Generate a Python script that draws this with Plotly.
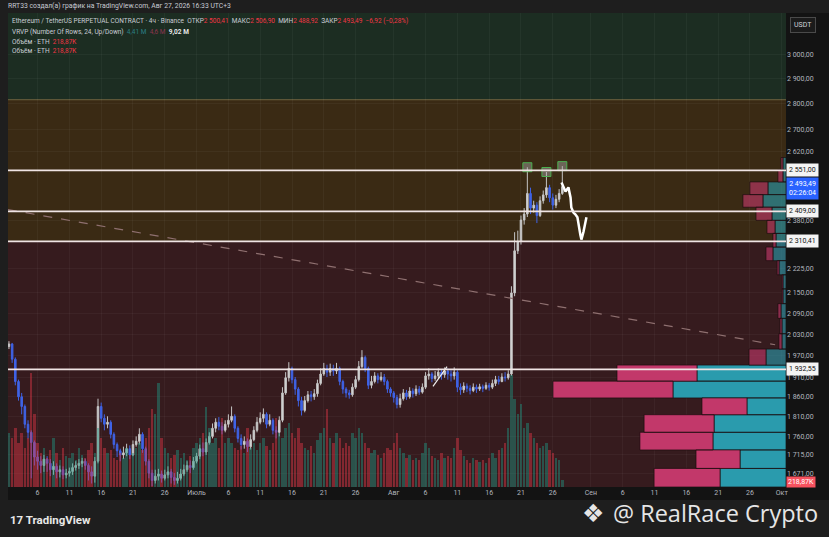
import math
import pandas as pd
import plotly.graph_objects as go

# ---- price data: 12h candles, first bar opens 2026-06-01 00:00
CANDLE_START = "2026-06-01 00:00"
first_open = 1990

close = [
    1995, 2002, 1960, 1900, 1860, 1835, 1790, 1770, 1745, 1710,
    1700, 1690, 1705, 1695, 1680, 1688, 1675, 1680, 1668, 1672,
    1676, 1685, 1690, 1695, 1700, 1690, 1675, 1665, 1700, 1835,
    1805, 1790, 1795, 1765, 1740, 1725, 1715, 1720, 1730, 1715,
    1740, 1748, 1765, 1730, 1700, 1672, 1655, 1665, 1670, 1660,
    1668, 1675, 1662, 1655, 1660, 1670, 1680, 1690, 1685, 1700,
    1712, 1730, 1722, 1745, 1760, 1780, 1795, 1785, 1775, 1790,
    1800, 1810, 1780, 1755, 1740, 1748, 1735, 1752, 1775, 1795,
    1805, 1815, 1790, 1800, 1775, 1770, 1800, 1870, 1910, 1935,
    1905, 1880, 1850, 1825, 1850, 1865, 1860, 1868, 1895, 1920,
    1935, 1925, 1935, 1928, 1935, 1900, 1880, 1870, 1865, 1885,
    1905, 1940, 1965, 1935, 1890, 1900, 1915, 1905, 1912, 1900,
    1880, 1870, 1858, 1840, 1855, 1870, 1860, 1875, 1868, 1880,
    1872, 1885, 1915, 1920, 1908, 1915, 1925, 1918, 1928, 1920,
    1915, 1925, 1885, 1878, 1888, 1882, 1876, 1885, 1880, 1886,
    1882, 1890, 1885, 1895, 1905, 1900, 1912, 1910, 1920, 2150,
    2280, 2310, 2380, 2400, 2470, 2420, 2430, 2395, 2445, 2465,
    2490, 2455, 2430, 2450, 2470, 2493.49,
]
high = [
    2012, 2010, 2005, 1965, 1905, 1870, 1840, 1800, 1775, 1750,
    1725, 1712, 1715, 1712, 1705, 1700, 1695, 1690, 1688, 1682,
    1685, 1695, 1700, 1705, 1708, 1706, 1695, 1688, 1710, 1855,
    1845, 1815, 1810, 1800, 1770, 1745, 1730, 1735, 1742, 1738,
    1750, 1760, 1780, 1770, 1735, 1705, 1680, 1680, 1682, 1678,
    1680, 1688, 1682, 1672, 1675, 1682, 1692, 1700, 1702, 1710,
    1720, 1740, 1745, 1755, 1770, 1792, 1805, 1808, 1795, 1800,
    1815, 1835, 1815, 1785, 1765, 1760, 1755, 1765, 1785, 1808,
    1820, 1830, 1820, 1815, 1805, 1785, 1810, 1885, 1925, 1952,
    1940, 1912, 1885, 1860, 1862, 1875, 1875, 1880, 1905, 1935,
    1950, 1945, 1948, 1945, 1950, 1940, 1905, 1885, 1878, 1895,
    1915, 1955, 1985, 1970, 1940, 1915, 1925, 1922, 1925, 1920,
    1905, 1885, 1875, 1865, 1868, 1880, 1878, 1885, 1882, 1890,
    1888, 1895, 1925, 1935, 1925, 1928, 1935, 1932, 1938, 1935,
    1930, 1938, 1930, 1895, 1898, 1895, 1890, 1895, 1892, 1894,
    1892, 1898, 1896, 1905, 1915, 1915, 1922, 1925, 1930, 2170,
    2340, 2345, 2395, 2420, 2562, 2490, 2445, 2440, 2460, 2480,
    2545, 2500, 2470, 2465, 2485, 2566,
]
low = [
    1985, 1988, 1950, 1890, 1850, 1815, 1780, 1755, 1660, 1690,
    1680, 1672, 1675, 1675, 1665, 1668, 1660, 1662, 1658, 1660,
    1664, 1668, 1678, 1682, 1686, 1680, 1655, 1648, 1650, 1695,
    1795, 1775, 1780, 1755, 1730, 1710, 1700, 1705, 1712, 1705,
    1712, 1735, 1740, 1720, 1690, 1660, 1642, 1648, 1655, 1650,
    1655, 1660, 1648, 1645, 1648, 1655, 1665, 1675, 1672, 1680,
    1695, 1705, 1712, 1715, 1740, 1755, 1770, 1775, 1765, 1770,
    1782, 1795, 1770, 1745, 1728, 1730, 1722, 1728, 1748, 1770,
    1790, 1795, 1780, 1785, 1765, 1755, 1760, 1795, 1865, 1900,
    1895, 1865, 1835, 1812, 1820, 1845, 1848, 1852, 1860, 1890,
    1915, 1912, 1915, 1915, 1920, 1890, 1868, 1858, 1855, 1860,
    1880, 1900, 1935, 1925, 1880, 1882, 1895, 1895, 1900, 1890,
    1870, 1860, 1845, 1830, 1832, 1850, 1852, 1855, 1858, 1862,
    1865, 1868, 1880, 1905, 1898, 1902, 1908, 1905, 1910, 1905,
    1900, 1905, 1872, 1865, 1870, 1872, 1866, 1872, 1870, 1875,
    1872, 1878, 1876, 1880, 1888, 1892, 1898, 1900, 1905, 1915,
    2140, 2270, 2300, 2365, 2390, 2400, 2405, 2370, 2390, 2435,
    2455, 2440, 2415, 2420, 2440, 2465,
]
# volume per 12h bar, thousands of ETH
volume = [
    1200, 1650, 1500, 1800, 1350, 1650, 1200, 1500, 3500, 2250,
    1350, 1050, 1200, 900, 1140, 1500, 1050, 840, 1200, 960,
    900, 1050, 840, 1200, 990, 900, 1140, 1350, 1050, 1800,
    1500, 1200, 1050, 1140, 900, 840, 1050, 900, 1200, 990,
    1050, 1200, 1350, 1140, 1500, 1800, 2400, 2250, 3200, 1500,
    1200, 1050, 900, 990, 1140, 900, 1050, 840, 960, 1200,
    1350, 1500, 1650, 2460, 1800, 1350, 1500, 1200, 2100, 1350,
    1500, 1350, 1200, 1140, 1260, 1050, 1800, 1200, 1350, 1140,
    1350, 1500, 1260, 1140, 1350, 2100, 1650, 1500, 1800, 1950,
    1650, 1500, 1800, 1350, 1200, 1140, 1260, 1050, 1440, 1650,
    1800, 2400, 1500, 1350, 1650, 1500, 1200, 1350, 1260, 1650,
    1500, 1800, 1650, 1350, 1200, 1050, 1140, 990, 900, 1050,
    1200, 1140, 1350, 1650, 1200, 1050, 900, 990, 840, 900,
    840, 1050, 1350, 1200, 960, 900, 840, 1050, 900, 960,
    900, 1200, 1500, 1140, 960, 840, 750, 900, 840, 780,
    840, 750, 900, 1050, 900, 1140, 1200, 1350, 1800, 3420,
    2700, 2250, 2550, 1800, 1950, 1650, 1500, 1350, 1200, 1260,
    1350, 1140, 1050, 900, 840, 219,
]
marked_high_idx = [164, 170, 175]

# header values of the last 4h bar
last_open, last_high, last_low, last_close = 2500.41, 2506.90, 2488.92, 2493.49
last_change, last_change_pct = -6.92, -0.28
bar_countdown = "02:26:04"
last_volume_label = "218,87K"

# ---- visible range volume profile (rows bottom -> top), thousands of ETH
vp_edges = [1640, 1683, 1727, 1770, 1814, 1857, 1901, 1944, 1988, 2031, 2075, 2118,
            2162, 2205, 2249, 2292, 2336, 2379, 2423, 2466, 2510, 2553, 2597]
vp_up = [475, 331, 526, 518, 281, 814, 641, 144, 29, 29, 36, 22,
         22, 50, 94, 72, 79, 101, 166, 130, 22, 22]
vp_down = [475, 317, 526, 504, 324, 864, 576, 122, 22, 14, 22, 7,
           7, 14, 50, 22, 58, 115, 144, 130, 36, 14]

# ---- drawings
zone_top = 2815
zone_mid = 2310.41
levels = [2551.00, 2409.00, 2310.41, 1932.55]
trend_t = ["2026-06-01 08:00", "2026-09-29 23:00"]
trend_p = [2415, 2000]
sketch_t = ["2026-08-07 04:00", "2026-08-09 09:00"]
sketch_p = [1887, 1940]
path_t = ["2026-08-27 09:00", "2026-08-28 00:00", "2026-08-28 11:00", "2026-08-28 19:00",
          "2026-08-28 22:00", "2026-08-29 06:00", "2026-08-29 13:00", "2026-08-29 21:00",
          "2026-08-30 08:00", "2026-08-30 12:00", "2026-08-30 20:00", "2026-08-31 07:00"]
path_p = [2508, 2477, 2491, 2456, 2422, 2405, 2399, 2389, 2332, 2316, 2342, 2389]

# ---- axes
price_ticks = [3000, 2900, 2800, 2700, 2620, 2380, 2225, 2150, 2090, 2030,
               1970, 1910, 1860, 1810, 1760, 1715, 1671]
tick_dates = ["2026-06-06", "2026-06-11", "2026-06-16", "2026-06-21", "2026-06-26",
              "2026-07-01", "2026-07-06", "2026-07-11", "2026-07-16", "2026-07-21",
              "2026-07-26", "2026-08-01", "2026-08-06", "2026-08-11", "2026-08-16",
              "2026-08-21", "2026-08-26", "2026-09-01", "2026-09-06", "2026-09-11",
              "2026-09-16", "2026-09-21", "2026-09-26", "2026-10-01"]
tick_text = ["6", "11", "16", "21", "26", "Июль", "6", "11", "16", "21", "26", "Авг",
             "6", "11", "16", "21", "26", "Сен", "6", "11", "16", "21", "26", "Окт"]
x_range = ["2026-06-01 08:24", "2026-10-01 16:00"]
y_range = [1640, 3177]

BG = "#1e1e1e"
AXIS_BG = "#131313"
TXT = "#b2b5be"
RED = "#f23645"
TEAL = "#2a9bad"
PINK = "#c2386a"
FONT = "Roboto"


def fmt(v):
    return f"{v:,.2f}".replace(",", " ").replace(".", ",")


times = pd.date_range(CANDLE_START, periods=len(close), freq="12h")
opens = [first_open] + close[:-1]

fig = go.Figure()

# volume histogram in the lower part of the pane
vol_colors = ["rgba(32,150,130,0.45)" if c >= o else "rgba(225,55,70,0.45)"
              for o, c in zip(opens, close)]
fig.add_trace(go.Bar(x=times, y=volume, marker_color=vol_colors, marker_line_width=0,
                     width=12 * 3600 * 1000 * 0.75, yaxis="y3", hoverinfo="skip"))

fig.add_trace(go.Scatter(x=trend_t, y=trend_p, mode="lines",
                         line=dict(color="#8f7070", width=1.2, dash="dash"), hoverinfo="skip"))

fig.add_trace(go.Candlestick(
    x=times, open=opens, high=high, low=low, close=close, whiskerwidth=0,
    increasing=dict(line=dict(color="#c4c4c4", width=1), fillcolor="#d8d8d8"),
    decreasing=dict(line=dict(color="#3f63e6", width=1), fillcolor="#3f63e6"),
))

fig.add_trace(go.Scatter(
    x=[times[i] for i in marked_high_idx], y=[high[i] for i in marked_high_idx],
    mode="markers", hoverinfo="skip",
    marker=dict(symbol="square", size=9, color="rgba(170,170,170,0.45)",
                line=dict(color="#4caf50", width=1)),
))

fig.add_trace(go.Scatter(x=sketch_t, y=sketch_p, mode="lines",
                         line=dict(color="#f0f0f0", width=1.2), hoverinfo="skip"))
fig.add_trace(go.Scatter(x=path_t, y=path_p, mode="lines",
                         line=dict(color="#ffffff", width=2.5), hoverinfo="skip"))

# volume profile: value area (70%) grown from the point of control
totals = [u + d for u, d in zip(vp_up, vp_down)]
poc = totals.index(max(totals))
lo = hi = poc
acc = totals[poc]
while acc < 0.7 * sum(totals):
    below = totals[lo - 1] if lo > 0 else -1
    above = totals[hi + 1] if hi < len(totals) - 1 else -1
    if above >= below:
        hi += 1
        acc += totals[hi]
    else:
        lo -= 1
        acc += totals[lo]

groups = {}
for i in range(len(vp_up)):
    y0, y1 = vp_edges[i], vp_edges[i + 1]
    in_va = lo <= i <= hi
    for side, a, b in (("up", 0, vp_up[i]), ("down", vp_up[i], vp_up[i] + vp_down[i])):
        xs, ys = groups.setdefault((side, in_va), ([], []))
        xs += [a, b, b, a, a, None]
        ys += [y0, y0, y1, y1, y0, None]

for (side, in_va), (xs, ys) in groups.items():
    base = TEAL if side == "up" else PINK
    r, g, b = int(base[1:3], 16), int(base[3:5], 16), int(base[5:7], 16)
    alpha = 1 if in_va else 0.62
    fig.add_trace(go.Scatter(x=xs, y=ys, xaxis="x2", yaxis="y", mode="lines",
                             fill="toself", fillcolor=f"rgba({r},{g},{b},{alpha})",
                             line=dict(color="rgba(25,12,14,0.85)", width=0.8),
                             hoverinfo="skip"))

# ---- zones and horizontal levels
shapes = [
    dict(type="rect", xref="paper", x0=0, x1=1, yref="y", y0=zone_top, y1=3300,
         fillcolor="#1c2d22", line_width=0, layer="below"),
    dict(type="rect", xref="paper", x0=0, x1=1, yref="y", y0=zone_mid, y1=zone_top,
         fillcolor="#3a2a14", line_width=0, layer="below"),
    dict(type="rect", xref="paper", x0=0, x1=1, yref="y", y0=1600, y1=zone_mid,
         fillcolor="#361b1e", line_width=0, layer="below"),
    dict(type="line", xref="paper", x0=0, x1=1, yref="y", y0=zone_top, y1=zone_top,
         line=dict(color="#6e6540", width=1), layer="below"),
    # axis panels
    dict(type="rect", xref="paper", x0=1, x1=1 + 43 / 778, yref="paper", y0=-13 / 473, y1=1,
         fillcolor=AXIS_BG, line_width=0, layer="below"),
    dict(type="rect", xref="paper", x0=0, x1=1, yref="paper", y0=-13 / 473, y1=0,
         fillcolor=AXIS_BG, line_width=0, layer="below"),
]
for lv in levels:
    shapes.append(dict(type="line", xref="paper", x0=0, x1=1, yref="y", y0=lv, y1=lv,
                       line=dict(color="#efe4e4", width=1.8), layer="above"))

annotations = []
for lv in levels:
    annotations.append(dict(xref="paper", x=1, xanchor="left", yref="y", y=math.log10(lv),
                            text=fmt(lv), showarrow=False, bgcolor="#f4f4f4",
                            font=dict(size=7, color="#111111", family=FONT), borderpad=2))
annotations.append(dict(xref="paper", x=1, xanchor="left", yref="y", y=math.log10(last_close),
                        yshift=-2, text=f"{fmt(last_close)}<br>{bar_countdown}", showarrow=False,
                        bgcolor="#2962ff", font=dict(size=7, color="#ffffff", family=FONT),
                        borderpad=2))
annotations.append(dict(xref="paper", x=1, xanchor="left", yref="y3", y=volume[-1],
                        yshift=-2, text=last_volume_label, showarrow=False, bgcolor="#f7525f",
                        font=dict(size=7, color="#ffffff", family=FONT), borderpad=1))
annotations.append(dict(xref="paper", x=1, xanchor="left", xshift=4, yref="paper", y=1,
                        yanchor="top", yshift=-4, text="USDT", showarrow=False,
                        bgcolor="#1b1b1b", bordercolor="#4a4a4a", borderwidth=1, borderpad=3,
                        font=dict(size=7, color="#d1d4dc", family=FONT)))

# header and legend texts
chg = f"{fmt(last_change)} ({fmt(last_change_pct)}%)".replace("-", "−")
legend_lines = [
    ("Ethereum / TetherUS PERPETUAL CONTRACT · 4ч · Binance  "
     f"ОТКР<span style='color:{RED}'>{fmt(last_open)}</span>  "
     f"МАКС<span style='color:{RED}'>{fmt(last_high)}</span>  "
     f"МИН<span style='color:{RED}'>{fmt(last_low)}</span>  "
     f"ЗАКР<span style='color:{RED}'>{fmt(last_close)}</span>  "
     f"<span style='color:{RED}'>{chg}</span>"),
    ("VRVP (Number Of Rows, 24, Up/Down)  <span style='color:#2b7f86'>4,41 M</span>  "
     "<span style='color:#8e3550'>4,6 M</span>  <b><span style='color:#e8e8e8'>9,02 M</span></b>"),
    f"Объём · ETH  <span style='color:{RED}'>{last_volume_label}</span>",
    f"Объём · ETH  <span style='color:{RED}'>{last_volume_label}</span>",
]
for txt, ypx in zip(legend_lines, [22, 33, 43, 52]):
    annotations.append(dict(xref="paper", x=2 / 778, xanchor="left", yref="paper",
                            y=(487 - ypx) / 473, yanchor="middle", text=txt, showarrow=False,
                            font=dict(size=6.5, color="#c9ccd4", family=FONT)))
annotations.append(dict(xref="paper", x=-2 / 778, xanchor="left", yref="paper",
                        y=(487 - 7) / 473, yanchor="middle", showarrow=False,
                        text="RRT33 создал(а) график на TradingView.com, Авг 27, 2026 16:33 UTC+3",
                        font=dict(size=6.8, color="#c9ccd4", family=FONT)))
annotations.append(dict(xref="paper", x=0, xanchor="left", yref="paper", y=(487 - 520) / 473,
                        yanchor="middle", showarrow=False, text="<b>17 TradingView</b>",
                        font=dict(size=11.5, color="#e8e8e8", family=FONT)))
annotations.append(dict(xref="paper", x=(593 - 8) / 778, xanchor="center", yref="paper",
                        y=(487 - 513) / 473, yanchor="middle", showarrow=False, text="❖",
                        font=dict(size=25, color="#e6e6e6", family="DejaVu Sans")))
annotations.append(dict(xref="paper", x=(611 - 8) / 778, xanchor="left", yref="paper",
                        y=(487 - 513) / 473, yanchor="middle", showarrow=False,
                        text="@ RealRace Crypto",
                        font=dict(size=23.5, color="#e6e6e6", family="Open Sans")))

vp_span = max(totals) * 778 / 233

fig.update_layout(
    width=829, height=537,
    margin=dict(l=8, r=43, t=13, b=50),
    paper_bgcolor=BG, plot_bgcolor="#361b1e",
    showlegend=False, bargap=0,
    font=dict(family=FONT, size=7, color=TXT),
    xaxis=dict(type="date", range=x_range, tickvals=tick_dates, ticktext=tick_text,
               showgrid=True, gridcolor="rgba(255,255,255,0.04)", zeroline=False,
               showline=False, ticks="", tickfont=dict(size=7, color=TXT),
               rangeslider=dict(visible=False)),
    xaxis2=dict(overlaying="x", range=[vp_span, 0], visible=False, showgrid=False),
    yaxis=dict(type="log", side="right", range=[math.log10(y_range[0]), math.log10(y_range[1])],
               tickvals=price_ticks, ticktext=[fmt(v) for v in price_ticks],
               showgrid=True, gridcolor="rgba(255,255,255,0.04)", zeroline=False,
               showline=False, ticks="", tickfont=dict(size=7, color=TXT)),
    yaxis3=dict(overlaying="y", range=[0, max(volume) * 473 / 114], visible=False,
                showgrid=False),
    shapes=shapes, annotations=annotations,
)

# the page body has a default 8px margin; drop it so the figure sits at the window corner
fig.write_html("out.html", config={"displayModeBar": False},
               post_script="document.body.style.margin='0';"
                           f"document.body.style.background='{BG}';")
